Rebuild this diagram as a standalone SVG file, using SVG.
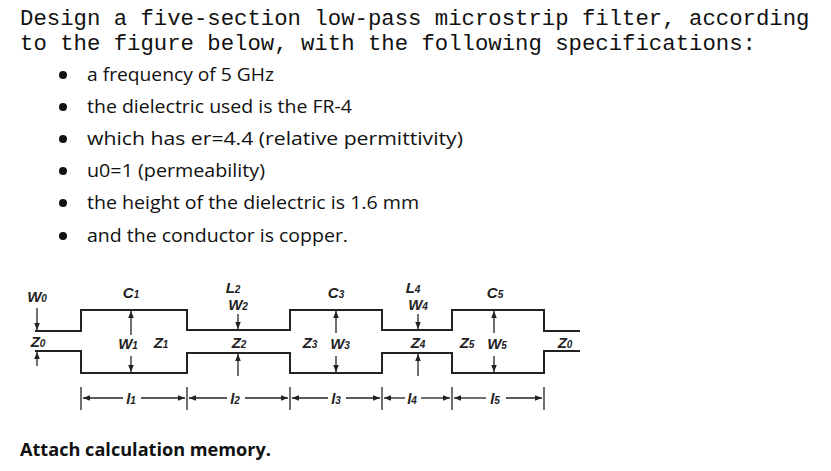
<svg xmlns="http://www.w3.org/2000/svg" width="831" height="471" viewBox="0 0 831 471">
<defs>
<marker id="ah" viewBox="0 0 10 10" refX="10" refY="5" markerWidth="7" markerHeight="7" orient="auto-start-reverse" markerUnits="userSpaceOnUse"><path d="M0,1 L10,5 L0,9 z" fill="#222"/></marker>
<style>
.mono{font-family:"Liberation Mono",monospace;font-size:22.3px;fill:#111}
.b{font-family:"Open Sans","Liberation Sans",sans-serif;font-size:18px;fill:#111}
.lb{font-family:"Liberation Sans",Arial,sans-serif;font-size:15px;font-style:italic;font-weight:bold;fill:#222;text-anchor:middle}
.ln{stroke:#222;stroke-width:2;fill:none}
.ar{stroke:#222;stroke-width:1.3;fill:none;marker-end:url(#ah)}
.tk{stroke:#222;stroke-width:1.3}
</style>
</defs>
<rect width="831" height="471" fill="#fff"/>
<g id="text">
<text class="mono" x="20" y="25">Design a five-section low-pass microstrip filter, according</text>
<text class="mono" x="20" y="50">to the figure below, with the following specifications:</text>
<g fill="#111"><circle cx="63" cy="75" r="4"/><circle cx="63" cy="107" r="4"/><circle cx="63" cy="139" r="4"/><circle cx="63" cy="171" r="4"/><circle cx="63" cy="203" r="4"/><circle cx="63" cy="236" r="4"/></g>
<text class="b" x="87" y="81" textLength="187" lengthAdjust="spacingAndGlyphs">a frequency of 5 GHz</text>
<text class="b" x="87" y="113" textLength="265" lengthAdjust="spacingAndGlyphs">the dielectric used is the FR-4</text>
<text class="b" x="87" y="145" textLength="376" lengthAdjust="spacingAndGlyphs">which has er=4.4 (relative permittivity)</text>
<text class="b" x="87" y="177" textLength="178" lengthAdjust="spacingAndGlyphs">u0=1 (permeability)</text>
<text class="b" x="87" y="209" textLength="332" lengthAdjust="spacingAndGlyphs">the height of the dielectric is 1.6 mm</text>
<text class="b" x="87" y="242" textLength="261" lengthAdjust="spacingAndGlyphs">and the conductor is copper.</text>
<text class="b" x="20" y="456" font-weight="bold" textLength="251" lengthAdjust="spacingAndGlyphs">Attach calculation memory.</text>
</g>
<g id="filter">
<path class="ln" d="M35,331 H81 V310 H187 V330 H290 V310 H382 V330 H452 V310 H544 V331 H580"/>
<path class="ln" d="M35,351 H81 V373 H187 V353 H290 V373 H382 V353 H452 V373 H544 V351 H580"/>
</g>
<g id="connectors">
<line class="ar" x1="37" y1="308" x2="37" y2="330"/>
<line class="ar" x1="37" y1="366" x2="37" y2="352"/>
<line class="ar" x1="131" y1="335" x2="131" y2="311"/>
<line class="ar" x1="131" y1="356" x2="131" y2="372"/>
<line class="ar" x1="238" y1="314" x2="238" y2="329"/>
<line class="ar" x1="238" y1="376" x2="238" y2="354"/>
<line class="ar" x1="336" y1="333" x2="336" y2="311"/>
<line class="ar" x1="336" y1="356" x2="336" y2="372"/>
<line class="ar" x1="418" y1="314" x2="418" y2="329"/>
<line class="ar" x1="418" y1="376" x2="418" y2="354"/>
<line class="ar" x1="494" y1="333" x2="494" y2="311"/>
<line class="ar" x1="494" y1="356" x2="494" y2="372"/>
<g class="tk"><line x1="81" y1="387" x2="81" y2="410"/><line x1="187" y1="387" x2="187" y2="410"/><line x1="290" y1="387" x2="290" y2="410"/><line x1="382" y1="387" x2="382" y2="410"/><line x1="452" y1="387" x2="452" y2="410"/><line x1="544" y1="387" x2="544" y2="410"/></g>
<line class="ar" x1="123" y1="398" x2="83" y2="398"/><line class="ar" x1="141" y1="398" x2="185" y2="398"/>
<line class="ar" x1="227" y1="398" x2="189" y2="398"/><line class="ar" x1="245" y1="398" x2="288" y2="398"/>
<line class="ar" x1="328" y1="398" x2="292" y2="398"/><line class="ar" x1="346" y1="398" x2="380" y2="398"/>
<line class="ar" x1="405" y1="398" x2="384" y2="398"/><line class="ar" x1="421" y1="398" x2="450" y2="398"/>
<line class="ar" x1="486" y1="398" x2="454" y2="398"/><line class="ar" x1="506" y1="398" x2="542" y2="398"/>
</g>
<g id="labels">
<text class="lb" x="37" y="302">W<tspan font-size="10">0</tspan></text>
<text class="lb" x="131" y="298">C<tspan font-size="10">1</tspan></text>
<text class="lb" x="233" y="293">L<tspan font-size="10">2</tspan></text>
<text class="lb" x="238" y="310">W<tspan font-size="10">2</tspan></text>
<text class="lb" x="336" y="298">C<tspan font-size="10">3</tspan></text>
<text class="lb" x="413" y="293">L<tspan font-size="10">4</tspan></text>
<text class="lb" x="418" y="310">W<tspan font-size="10">4</tspan></text>
<text class="lb" x="495" y="298">C<tspan font-size="10">5</tspan></text>
<text class="lb" x="38" y="347">Z<tspan font-size="10">0</tspan></text>
<text class="lb" x="128" y="349">W<tspan font-size="10">1</tspan></text>
<text class="lb" x="161" y="348">Z<tspan font-size="10">1</tspan></text>
<text class="lb" x="239" y="348">Z<tspan font-size="10">2</tspan></text>
<text class="lb" x="310" y="348">Z<tspan font-size="10">3</tspan></text>
<text class="lb" x="340" y="349">W<tspan font-size="10">3</tspan></text>
<text class="lb" x="418" y="348">Z<tspan font-size="10">4</tspan></text>
<text class="lb" x="467" y="348">Z<tspan font-size="10">5</tspan></text>
<text class="lb" x="497" y="349">W<tspan font-size="10">5</tspan></text>
<text class="lb" x="565" y="348">Z<tspan font-size="10">0</tspan></text>
<text class="lb" x="131" y="404">l<tspan font-size="10">1</tspan></text>
<text class="lb" x="235" y="404">l<tspan font-size="10">2</tspan></text>
<text class="lb" x="336" y="404">l<tspan font-size="10">3</tspan></text>
<text class="lb" x="412" y="404">l<tspan font-size="10">4</tspan></text>
<text class="lb" x="495" y="404">l<tspan font-size="10">5</tspan></text>
</g>
</svg>
